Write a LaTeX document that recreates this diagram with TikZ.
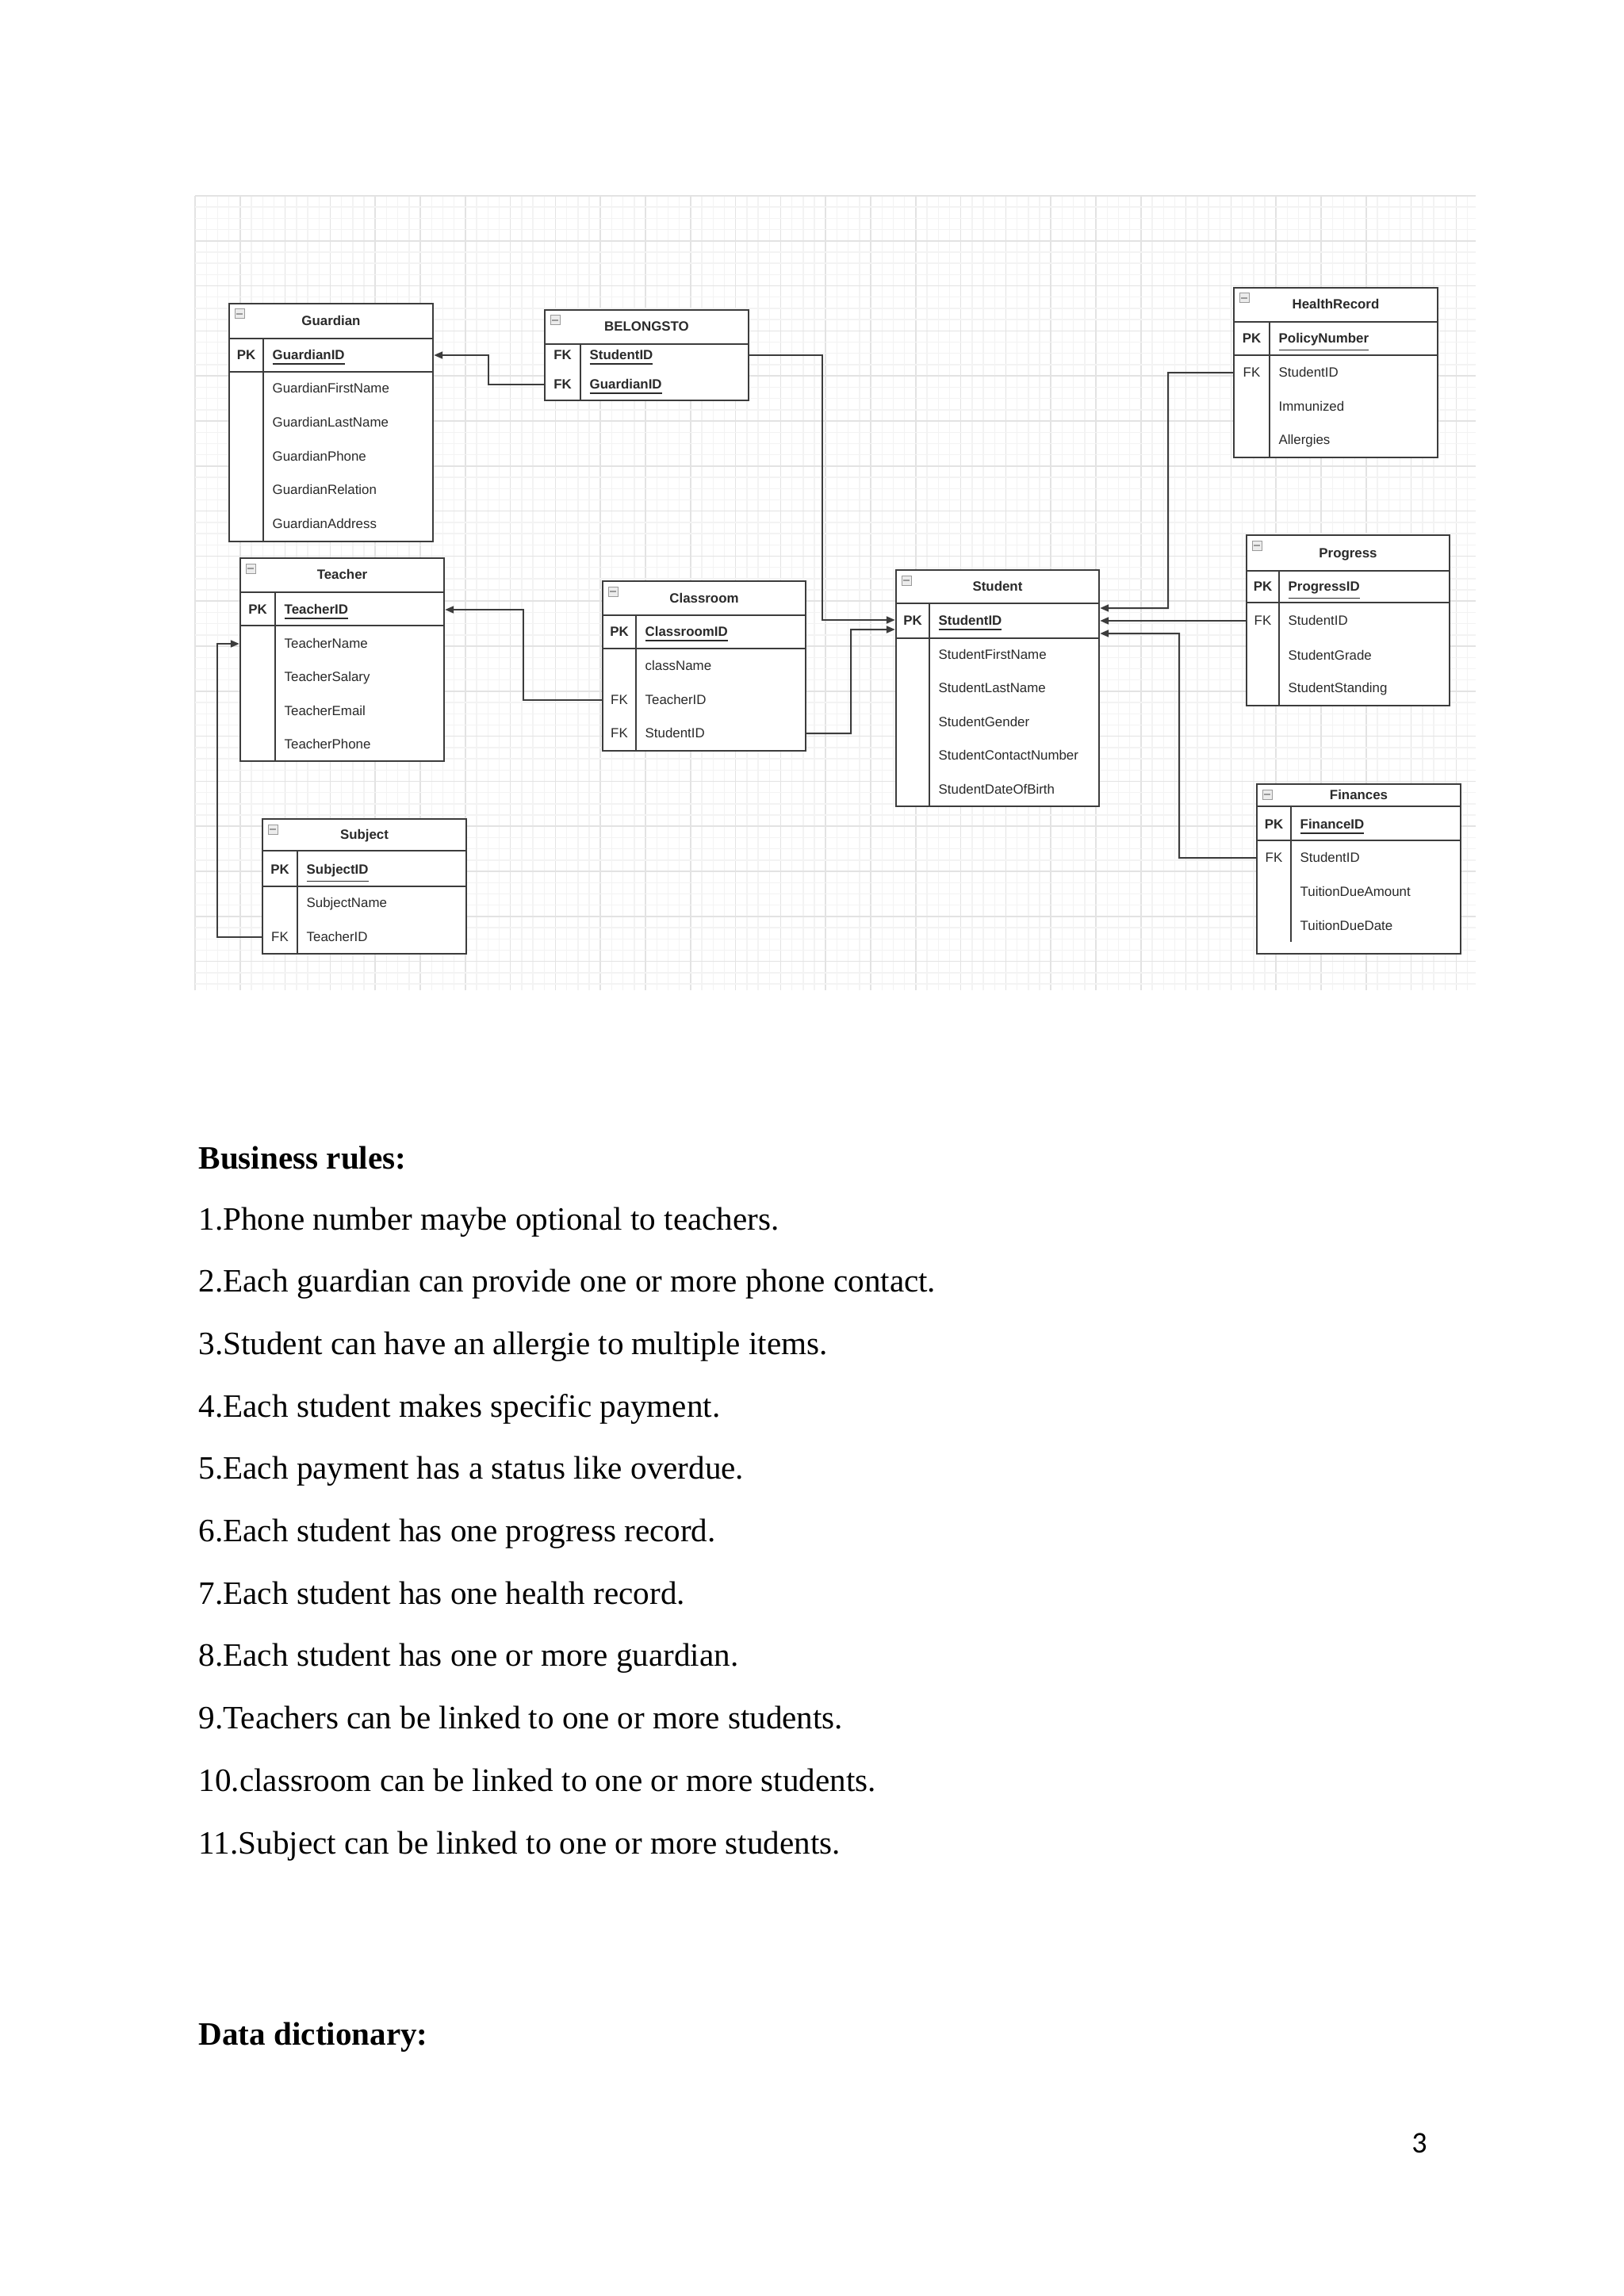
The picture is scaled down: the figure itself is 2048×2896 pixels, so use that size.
\documentclass[tikz,border=0pt]{standalone}
\usepackage{fontspec}
\setmainfont{Liberation Serif}
\newfontfamily\diagfont{Liberation Sans}
\newfontfamily\pagefont{Carlito}
\usetikzlibrary{arrows.meta,fit}
\definecolor{bord}{HTML}{3C3C3C}
\definecolor{txt}{HTML}{2A2A2A}
\definecolor{gmin}{HTML}{F3F3F3}
\definecolor{gmaj}{HTML}{E3E3E3}
\definecolor{iconc}{HTML}{9A9A9A}
\newcommand\ERtable[9]{%
  \coordinate (#1-nw) at (#2,#3);
  \coordinate (#1-se) at (#4,#5);
  \node[tbl, fit=(#1-nw)(#1-se)] (#1) {};
  \draw[tline] (#2,#6) -- (#4,#6);
  \ifnum#7>0 \draw[tline] (#2,#7) -- (#4,#7);\fi
  \draw[tline] (#8,#6) -- (#8,#9);
  \draw[iconbox] ({#2+7},{#3+7}) rectangle ++(12,12);
  \draw[iconline] ({#2+9},{#3+13}) -- ++(8,0);
}
\begin{document}
\begin{tikzpicture}[x=0.1mm,y=-0.1mm,
  tbl/.style={draw=bord, line width=0.24mm, inner sep=0pt, fill=white},
  tline/.style={draw=bord, line width=0.24mm},
  iconbox/.style={draw=iconc, fill=gray!15, line width=0.1mm},
  iconline/.style={draw=iconc, line width=0.12mm},
  dfont/.style={font=\diagfont\fontsize{4.8pt}{5pt}\selectfont},
  ttl/.style={font=\diagfont\fontsize{4.8pt}{5pt}\selectfont\bfseries, text=txt, inner sep=0pt, text height=4.4pt, text depth=1pt},
  fld/.style={dfont, text=txt, inner sep=0pt, anchor=west, text height=4.4pt, text depth=1pt},
  pkf/.style={fld, font=\diagfont\fontsize{4.8pt}{5pt}\selectfont\bfseries},
  keyn/.style={dfont, text=txt, inner sep=0pt, text height=4.4pt, text depth=1pt},
  keyb/.style={keyn, font=\diagfont\fontsize{4.8pt}{5pt}\selectfont\bfseries},
  conn/.style={draw=bord, line width=0.2mm},
  arr/.style={conn, -{Triangle[length=1.1mm,width=0.9mm]}},
  gmn/.style={draw=gmin, line width=0.14mm},
  gmj/.style={draw=gmaj, line width=0.16mm},
  body/.style={font=\fontsize{11.7pt}{14pt}\selectfont, inner sep=0pt, anchor=base west, text=black},
]
\useasboundingbox (0,0) rectangle (2048,2896);
\fill[white] (0,0) rectangle (2048,2896);

% ---- grid background ----
\foreach \i in {0,...,113}{
  \pgfmathtruncatemacro\m{mod(\i,4)}
  \ifnum\m=0\relax
    \draw[gmj] ({246+14.2*\i},247) -- ({246+14.2*\i},1249);
  \else
    \draw[gmn] ({246+14.2*\i},247) -- ({246+14.2*\i},1249);
  \fi
}
\foreach \i in {0,...,70}{
  \pgfmathtruncatemacro\m{mod(\i,4)}
  \ifnum\m=0\relax
    \draw[gmj] (246,{247+14.2*\i}) -- (1861,{247+14.2*\i});
  \else
    \draw[gmn] (246,{247+14.2*\i}) -- (1861,{247+14.2*\i});
  \fi
}

% ---- Guardian ----
\ERtable{gu}{289}{383}{546}{683}{427}{469}{332}{683}
\node[ttl] (gu-t) at (417.5,405) {Guardian};
\node[keyb] (gu-k1) at (310.5,448) {PK};
\node[pkf] (gu-1) at (343,448) {\underline{GuardianID}};
\node[fld] (gu-2) at (343,490) {GuardianFirstName};
\node[fld] (gu-3) at (343,533) {GuardianLastName};
\node[fld] (gu-4) at (343,576) {GuardianPhone};
\node[fld] (gu-5) at (343,618) {GuardianRelation};
\node[fld] (gu-6) at (343,661) {GuardianAddress};

% ---- BELONGSTO ----
\ERtable{bt}{687}{391}{944}{505}{434}{0}{732}{505}
\node[ttl] (bt-t) at (815.5,412) {BELONGSTO};
\node[keyb] (bt-k1) at (709.5,448) {FK};
\node[pkf] (bt-1) at (743,448) {\underline{StudentID}};
\node[keyb] (bt-k2) at (709.5,485) {FK};
\node[pkf] (bt-2) at (743,485) {\underline{GuardianID}};

% ---- HealthRecord ----
\ERtable{hr}{1556}{363}{1813}{577}{406}{448}{1601}{577}
\node[ttl] (hr-t) at (1684.5,384) {HealthRecord};
\node[keyb] (hr-k1) at (1578.5,427) {PK};
\node[pkf] (hr-1) at (1612,427) {\underline{PolicyNumber}};
\node[keyn] (hr-k2) at (1578.5,470) {FK};
\node[fld] (hr-2) at (1612,470) {StudentID};
\node[fld] (hr-3) at (1612,513) {Immunized};
\node[fld] (hr-4) at (1612,555) {Allergies};

% ---- Teacher ----
\ERtable{te}{303}{704}{560}{960}{747}{789}{347}{960}
\node[ttl] (te-t) at (431.5,725) {Teacher};
\node[keyb] (te-k1) at (325,769) {PK};
\node[pkf] (te-1) at (358,769) {\underline{TeacherID}};
\node[fld] (te-2) at (358,812) {TeacherName};
\node[fld] (te-3) at (358,854) {TeacherSalary};
\node[fld] (te-4) at (358,897) {TeacherEmail};
\node[fld] (te-5) at (358,939) {TeacherPhone};

% ---- Classroom ----
\ERtable{cl}{760}{733}{1016}{947}{776}{818}{802}{947}
\node[ttl] (cl-t) at (888,754.5) {Classroom};
\node[keyb] (cl-k1) at (781,797) {PK};
\node[pkf] (cl-1) at (813,797) {\underline{ClassroomID}};
\node[fld] (cl-2) at (813,840) {className};
\node[keyn] (cl-k3) at (781,883) {FK};
\node[fld] (cl-3) at (813,883) {TeacherID};
\node[keyn] (cl-k4) at (781,925) {FK};
\node[fld] (cl-4) at (813,925) {StudentID};

% ---- Student ----
\ERtable{st}{1130}{719}{1386}{1017}{761}{805}{1172}{1017}
\node[ttl] (st-t) at (1258,740) {Student};
\node[keyb] (st-k1) at (1151,783) {PK};
\node[pkf] (st-1) at (1183,783) {\underline{StudentID}};
\node[fld] (st-2) at (1183,826) {StudentFirstName};
\node[fld] (st-3) at (1183,868) {StudentLastName};
\node[fld] (st-4) at (1183,911) {StudentGender};
\node[fld] (st-5) at (1183,953) {StudentContactNumber};
\node[fld] (st-6) at (1183,996) {StudentDateOfBirth};

% ---- Progress ----
\ERtable{pr}{1572}{675}{1828}{890}{720}{760}{1613}{890}
\node[ttl] (pr-t) at (1700,697.5) {Progress};
\node[keyb] (pr-k1) at (1592.5,740) {PK};
\node[pkf] (pr-1) at (1624,740) {\underline{ProgressID}};
\node[keyn] (pr-k2) at (1592.5,783) {FK};
\node[fld] (pr-2) at (1624,783) {StudentID};
\node[fld] (pr-3) at (1624,827) {StudentGrade};
\node[fld] (pr-4) at (1624,868) {StudentStanding};

% ---- Finances ----
\ERtable{fi}{1585}{989}{1842}{1203}{1017}{1060}{1628}{1188}
\node[ttl] (fi-t) at (1713.5,1003) {Finances};
\node[keyb] (fi-k1) at (1606.5,1040) {PK};
\node[pkf] (fi-1) at (1639,1040) {\underline{FinanceID}};
\node[keyn] (fi-k2) at (1606.5,1082) {FK};
\node[fld] (fi-2) at (1639,1082) {StudentID};
\node[fld] (fi-3) at (1639,1125) {TuitionDueAmount};
\node[fld] (fi-4) at (1639,1168) {TuitionDueDate};

% ---- Subject ----
\ERtable{su}{331}{1033}{588}{1203}{1073}{1118}{375}{1203}
\node[ttl] (su-t) at (459.5,1053) {Subject};
\node[keyb] (su-k1) at (353,1097) {PK};
\node[pkf] (su-1) at (386,1097) {\underline{SubjectID}};
\node[fld] (su-2) at (386,1139) {SubjectName};
\node[keyn] (su-k3) at (353,1182) {FK};
\node[fld] (su-3) at (386,1182) {TeacherID};

% ---- connectors ----
\draw[arr] (bt.west |- bt-k2) -- (616,485) -- (616,448) -- (gu.east |- gu-k1);
\draw[arr] (bt.east |- bt-k1) -- (1037,448) -- (1037,782) -- ([yshift=0.1mm]st.west |- st-k1);
\draw[arr] (cl.east |- cl-k4) -- (1073,925) -- (1073,794) -- ([yshift=-1.1mm]st.west |- st-k1);
\draw[arr] (cl.west |- cl-k3) -- (660,883) -- (660,769) -- (te.east |- te-k1);
\draw[arr] (su.west |- su-k3) -- (274,1182) -- (274,812) -- (te.west |- te-2);
\draw[arr] (hr.west |- hr-k2) -- (1473,470) -- (1473,767) -- ([yshift=1.6mm]st.east |- st-k1);
\draw[arr] (pr.west |- pr-k2) -- (st.east |- pr-k2);
\draw[arr] (fi.west |- fi-k2) -- (1487,1082) -- (1487,799) -- ([yshift=-1.6mm]st.east |- st-k1);

% ---- text below ----
\node[body] (brh) at (250,1474) {\bfseries Business rules:};
\node[body] (r1) at (250,1551) {1.Phone number maybe optional to teachers.};
\node[body] (r2) at (250,1629.7) {2.Each guardian can provide one or more phone contact.};
\node[body] (r3) at (250,1708.4) {3.Student can have an allergie to multiple items.};
\node[body] (r4) at (250,1787.1) {4.Each student makes specific payment.};
\node[body] (r5) at (250,1865.8) {5.Each payment has a status like overdue.};
\node[body] (r6) at (250,1944.5) {6.Each student has one progress record.};
\node[body] (r7) at (250,2023.2) {7.Each student has one health record.};
\node[body] (r8) at (250,2101.9) {8.Each student has one or more guardian.};
\node[body] (r9) at (250,2180.6) {9.Teachers can be linked to one or more students.};
\node[body] (r10) at (250,2259.3) {10.classroom can be linked to one or more students.};
\node[body] (r11) at (250,2338) {11.Subject can be linked to one or more students.};
\node[body] (ddh) at (250,2579) {\bfseries Data dictionary:};
\node[inner sep=0pt, anchor=base, font=\pagefont\fontsize{10.8pt}{13pt}\selectfont] (pg) at (1790,2715) {3};
\end{tikzpicture}
\end{document}
